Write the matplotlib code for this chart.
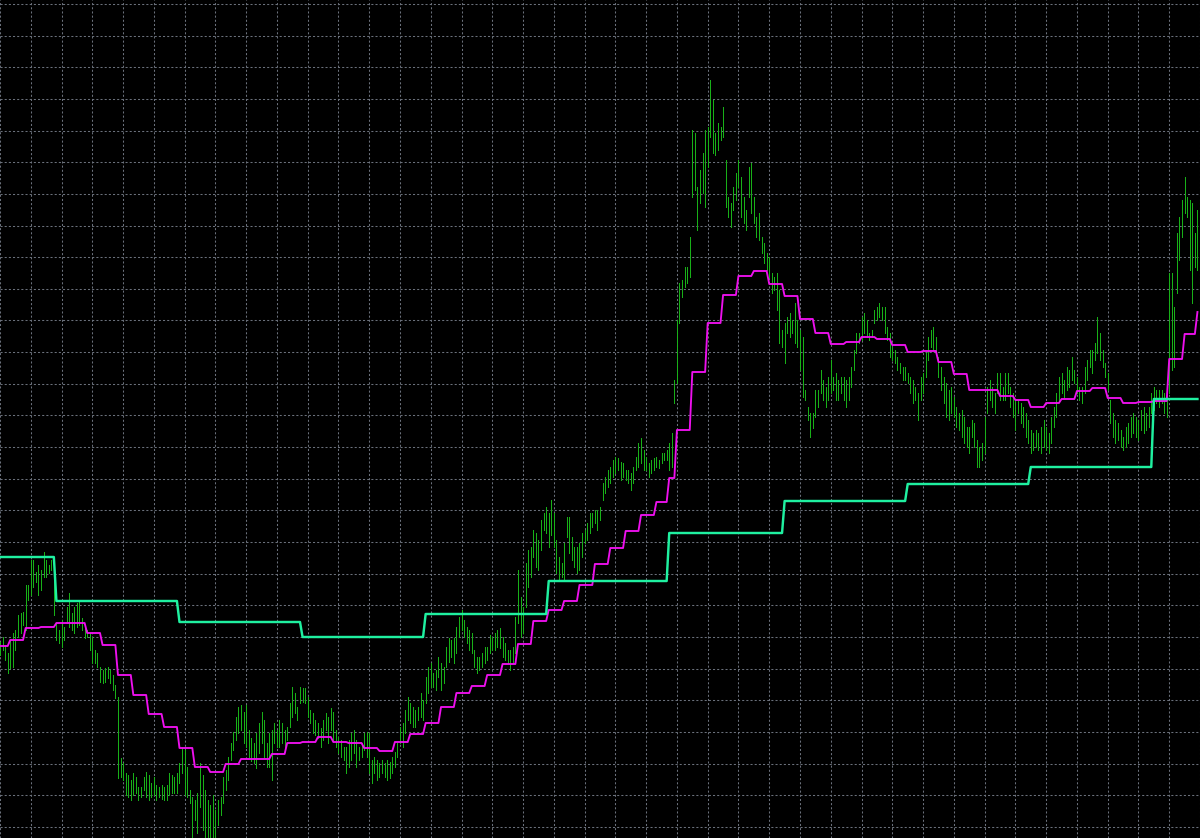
import numpy as np
import matplotlib
matplotlib.use("Agg")
import matplotlib.pyplot as plt

# bar highs / lows (price units, one value per bar)
high = [196, 201, 193, 185, 198, 205, 208, 223, 225, 226, 253, 253, 278, 278, 266, 273, 268, 286, 278, 273,
        278, 270, 215, 208, 218, 211, 231, 245, 225, 231, 235, 238, 220, 210, 208, 205, 201, 188, 185,
        171, 168, 170, 171, 168, 163, 153, 141, 80, 75, 65, 63, 58, 65, 61, 51, 51, 61, 66, 63,
        55, 61, 53, 51, 53, 51, 53, 65, 63, 61, 65, 75, 90, 88, 71, 48, 41, 38, 45,
        75, 63, 48, 38, 33, 43, 28, 38, 41, 61, 68, 81, 95, 106, 121, 131, 133, 126, 133, 108,
        100, 95, 105, 115, 126, 118, 95, 105, 108, 115, 108, 118, 115, 108, 111, 135, 151, 145, 131,
        151, 150, 150, 141, 128, 125, 118, 115, 110, 118, 125, 121, 130, 126, 108, 101, 98, 91, 91, 98,
        105, 108, 98, 91, 95, 105, 106, 105, 78, 81, 78, 75, 78, 75, 78, 76, 81, 86, 95,
        111, 115, 128, 141, 135, 131, 128, 131, 145, 138, 161, 171, 175, 165, 168, 181, 175, 171, 191, 200,
        198, 200, 211, 221, 228, 218, 211, 208, 205, 188, 181, 181, 185, 191, 191, 203, 201, 205, 208,
        210, 201, 195, 188, 188, 191, 221, 268, 241, 231, 275, 288, 291, 308, 305, 298, 318, 325, 331, 325,
        338, 325, 298, 281, 275, 295, 321, 321, 301, 291, 291, 295, 305, 308, 315, 325, 325, 328, 328,
        331, 355, 361, 368, 371, 378, 381, 380, 376, 375, 368, 368, 365, 371, 381, 395, 400, 388, 381, 375,
        378, 380, 381, 378, 385, 385, 388, 395, 405, 458, 518, 555, 558, 571, 571, 601, 708, 705, 651,
        668, 685, 708, 711, 758, 738, 705, 715, 711, 731, 678, 641, 635, 651, 665, 678, 661, 641, 628, 671,
        675, 641, 621, 625, 601, 595, 585, 581, 565, 561, 565, 548, 508, 515, 521, 525, 518, 535, 518,
        508, 501, 448, 431, 425, 425, 448, 448, 468, 458, 451, 461, 478, 461, 465, 458, 461, 461, 458, 461,
        471, 488, 505, 505, 521, 525, 518, 505, 508, 528, 531, 535, 531, 531, 511, 505, 491, 488, 481,
        475, 471, 471, 465, 461, 458, 451, 445, 461, 465, 485, 501, 508, 511, 501, 481, 471, 461, 455, 448,
        451, 441, 431, 425, 428, 421, 411, 411, 418, 415, 398, 391, 395, 421, 451, 458, 451, 445, 465,
        465, 451, 465, 465, 451, 445, 438, 438, 435, 431, 425, 418, 408, 405, 408, 405, 411, 418, 411, 405,
        421, 431, 445, 461, 465, 458, 471, 468, 481, 468, 461, 451, 451, 471, 478, 488, 488, 495, 521,
        505, 488, 475, 465, 438, 425, 418, 415, 408, 401, 411, 415, 421, 425, 421, 418, 428, 431, 425, 431,
        445, 451, 448, 448, 448, 445, 458, 565, 565, 531, 605, 621, 638, 661, 641, 638, 635, 605, 628]

low = [183, 188, 178, 165, 170, 171, 188, 201, 205, 213, 208, 238, 243, 251, 256, 243, 248, 261, 261, 265,
       268, 223, 198, 195, 191, 198, 215, 211, 208, 205, 211, 213, 208, 200, 201, 188, 175, 175, 171,
       156, 155, 156, 160, 155, 148, 140, 60, 61, 58, 43, 41, 38, 43, 45, 38, 41, 48, 41, 38,
       41, 43, 38, 41, 39, 38, 38, 43, 45, 45, 45, 55, 65, 43, 41, 35, -4, 18, 5,
       31, 8, -4, -4, -4, -4, -4, 13, 23, 35, 48, 58, 78, 88, 98, 105, 108, 95, 91, 81,
       77, 75, 70, 85, 95, 81, 71, 71, 58, 95, 91, 91, 95, 91, 98, 111, 121, 125, 118,
       135, 136, 135, 121, 115, 105, 103, 100, 91, 98, 108, 95, 108, 98, 91, 85, 81, 78, 65, 71,
       78, 85, 71, 78, 81, 88, 81, 65, 55, 65, 58, 61, 65, 61, 58, 60, 65, 71, 81,
       95, 91, 105, 118, 115, 111, 111, 118, 121, 118, 135, 145, 151, 151, 148, 161, 148, 155, 171, 176,
       181, 175, 185, 201, 208, 201, 195, 188, 185, 171, 165, 168, 171, 175, 178, 185, 188, 188, 191,
       190, 181, 178, 175, 168, 175, 185, 215, 201, 205, 231, 251, 261, 281, 271, 268, 288, 308, 305, 291,
       303, 291, 265, 258, 261, 258, 301, 285, 278, 271, 265, 268, 281, 295, 298, 305, 311, 315, 308,
       318, 338, 345, 351, 355, 361, 365, 368, 358, 361, 358, 355, 348, 355, 368, 371, 375, 368, 368, 361,
       365, 368, 371, 370, 375, 378, 378, 368, 371, 435, 455, 515, 541, 551, 555, 561, 641, 648, 608,
       635, 645, 631, 671, 701, 685, 683, 688, 698, 701, 631, 621, 611, 628, 638, 651, 621, 615, 608, 641,
       625, 615, 601, 598, 585, 575, 568, 561, 545, 548, 528, 495, 491, 475, 505, 501, 505, 495, 491,
       468, 441, 438, 418, 401, 410, 421, 431, 445, 438, 431, 438, 445, 448, 438, 438, 445, 438, 431, 438,
       451, 468, 485, 495, 498, 505, 501, 498, 501, 515, 518, 521, 518, 505, 498, 481, 478, 475, 468,
       465, 458, 458, 455, 445, 435, 438, 418, 438, 445, 461, 478, 491, 488, 485, 461, 448, 435, 421, 418,
       425, 421, 411, 408, 401, 395, 391, 385, 401, 391, 371, 371, 378, 385, 425, 438, 431, 425, 445,
       438, 438, 438, 445, 431, 421, 408, 425, 415, 411, 401, 395, 385, 388, 391, 388, 385, 391, 388, 385,
       395, 411, 421, 438, 445, 441, 448, 451, 458, 455, 445, 438, 435, 445, 458, 471, 465, 478, 485,
       478, 471, 461, 448, 415, 401, 395, 398, 391, 388, 391, 395, 401, 405, 401, 398, 408, 405, 408, 411,
       425, 428, 435, 431, 435, 425, 421, 445, 468, 471, 545, 578, 601, 625, 621, 568, 535, 571, 568]

# slow level (cyan): first bar of each level and its value
cyan_start = [0, 22, 70, 118, 166, 214, 261, 306, 354, 402, 450]
cyan_level = [281, 237, 216, 201, 224, 257, 305, 337, 354, 371, 439]

# faster level (magenta)
magenta_start = [0, 4, 10, 16, 22, 28, 34, 40, 46, 52, 58, 64, 70, 76, 82, 88, 94, 100, 106, 112,
                 118, 124, 130, 136, 142, 148, 154, 160, 166, 172, 178, 184, 190, 196, 202, 208, 214,
                 220, 226, 232, 238, 244, 250, 256, 261, 264, 270, 276, 282, 288, 294, 300, 306, 312,
                 318, 324, 330, 336, 342, 348, 354, 360, 366, 372, 378, 384, 390, 396, 402, 408, 414,
                 420, 426, 432, 438, 444, 450, 456, 462, 467]
magenta_level = [192, 198, 210, 211, 215, 215, 205, 193, 163, 143, 124, 111, 90, 71, 66, 74, 79, 79, 84, 95,
                 96, 101, 96, 95, 90, 87, 96, 104, 115, 131, 145, 152, 163, 174, 194, 217, 228,
                 237, 253, 274, 290, 307, 323, 336, 360, 408, 466, 515, 543, 562, 567, 554, 542, 519,
                 505, 494, 496, 501, 499, 493, 486, 487, 476, 464, 448, 448, 442, 438, 431, 435, 439,
                 447, 450, 440, 435, 436, 437, 479, 504, 526]

n = len(high)
bars = np.arange(n)


def per_bar(starts, levels):
    out = np.empty(n)
    ends = list(starts[1:]) + [n]
    for s, e, v in zip(starts, ends, levels):
        out[s:e] = v
    return out


fig = plt.figure(figsize=(12, 8.38), dpi=100, facecolor="black")
ax = fig.add_axes([0, 0, 1, 1], facecolor="black")

ax.vlines(bars, low, high, color="#18b018", lw=0.5, antialiased=False, zorder=2)
ax.plot(bars, per_bar(magenta_start, magenta_level), color="#ee10ee", lw=1.35, zorder=3)
ax.plot(bars, per_bar(cyan_start, cyan_level), color="#1ff0a0", lw=1.75, zorder=4)

ax.set_xlim(0, 468)
ax.set_ylim(0, 838)
ax.set_xticks(np.arange(0, 469, 12))
ax.set_yticks(np.arange(834, 0, -31.65))
ax.tick_params(length=0, labelbottom=False, labelleft=False)
ax.grid(True, color="#6a707b", lw=0.75, linestyle=(0, (2, 2)), zorder=1)
ax.set_axisbelow(True)
for s in ax.spines.values():
    s.set_visible(False)

fig.savefig("out.png", dpi=100, facecolor="black")
